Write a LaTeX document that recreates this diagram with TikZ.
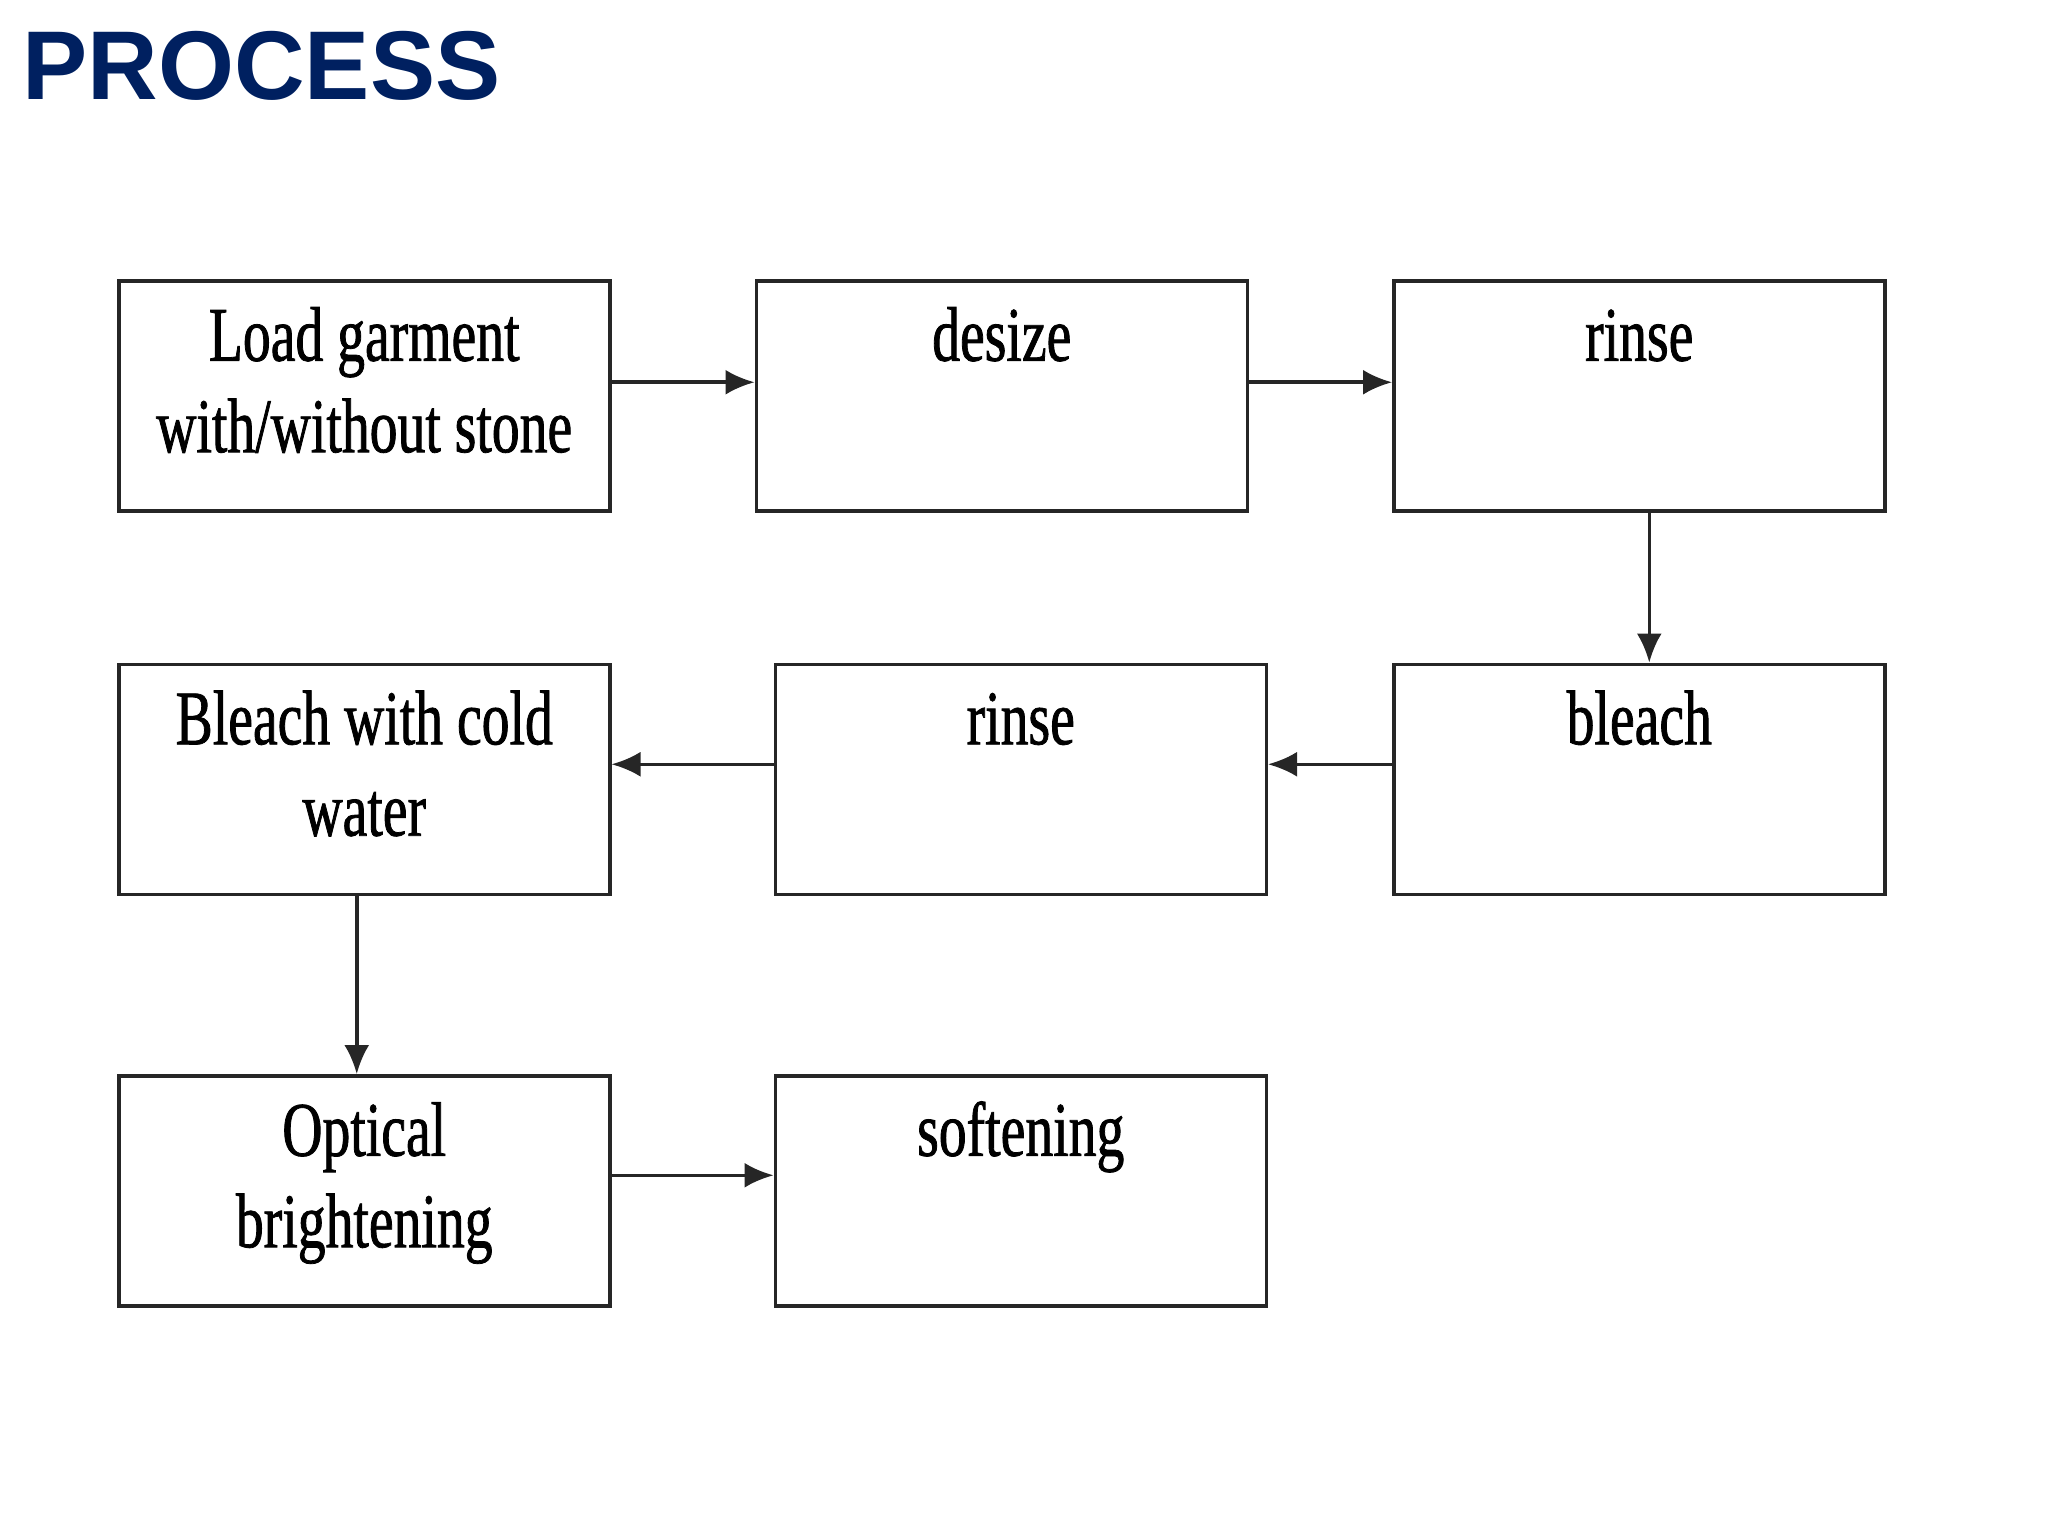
\documentclass[tikz,border=0pt]{standalone}
\usepackage{fontspec}
\setmainfont{Liberation Serif}
\newfontfamily\boxfont[FakeStretch=0.72, FakeBold=1]{Liberation Serif}
\newfontfamily\titlefont{Liberation Sans}
\usetikzlibrary{positioning}
\usetikzlibrary{arrows.meta}
\definecolor{TitleBlue}{HTML}{002060}
\tikzstyle{WhiteBody}  = [fill=white, draw=black!85, line width=1pt, font=\boxfont\fontsize{22pt}{26pt}\selectfont]
\tikzstyle{BlueTitle}  = [font=\titlefont\bfseries\fontsize{27.8pt}{30pt}\selectfont, text=TitleBlue, inner sep=0pt]
\tikzstyle{StepBox}    = [rectangle, minimum width=4.91cm, text width=4.91cm, inner sep=0pt, align=flush center, text height=0.80cm, text depth=1.50cm]
\tikzstyle{FlowArrow}  = [draw=black!85, line width=1pt, -{Latex[length=2.9mm, width=2.5mm]}]

\begin{document}
\begin{tikzpicture}

\useasboundingbox (0,0) rectangle (20.48,-15.36);

\node (title) [BlueTitle, anchor=base west] at (0.22,-1.00) {PROCESS};

%% ------------------------------------------------------------------ [ Row 1 ]
\node (load) [StepBox, WhiteBody, anchor=north west] at (1.17,-2.79)
      {Load garment\\with/without stone};
\node (desize) [StepBox, WhiteBody,
                right = 1.43cm of load] {desize};
\node (rinseA) [StepBox, WhiteBody,
                right = 1.43cm of desize] {rinse};

%% ------------------------------------------------------------------ [ Row 2 ]
\node (bleach) [StepBox, WhiteBody,
                below = 1.50cm of rinseA] {bleach};
\node (coldbleach) [StepBox, WhiteBody,
                    below = 1.50cm of load] {Bleach with cold\\water};
\node (rinseB) [StepBox, WhiteBody,
                right = 1.62cm of coldbleach] {rinse};

%% ------------------------------------------------------------------ [ Row 3 ]
\node (optical) [StepBox, WhiteBody,
                 below = 1.78cm of coldbleach] {Optical\\brightening};
\node (soften) [StepBox, WhiteBody,
                right = 1.62cm of optical] {softening};

%% ----------------------------------------------------------------- [ Arrows ]
\draw [FlowArrow] ([yshift=1.35mm]load.east) -- ([yshift=1.35mm]desize.west);
\draw [FlowArrow] ([yshift=1.35mm]desize.east) -- ([yshift=1.35mm]rinseA.west);
\draw [FlowArrow] ([xshift=1mm]rinseA.south) -- ([xshift=1mm]bleach.north);
\draw [FlowArrow] ([yshift=1.5mm]bleach.west) -- ([yshift=1.5mm]rinseB.east);
\draw [FlowArrow] ([yshift=1.5mm]rinseB.west) -- ([yshift=1.5mm]coldbleach.east);
\draw [FlowArrow] ([xshift=-0.75mm]coldbleach.south) -- ([xshift=-0.75mm]optical.north);
\draw [FlowArrow] ([yshift=1.55mm]optical.east) -- ([yshift=1.55mm]soften.west);
\end{tikzpicture}
\end{document}
